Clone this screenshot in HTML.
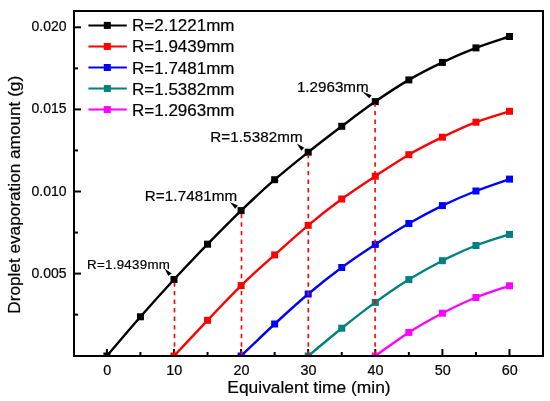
<!DOCTYPE html><html><head><meta charset="utf-8"><title>Droplet evaporation</title>
<style>html,body{margin:0;padding:0;background:#fff;}body{width:550px;height:401px;overflow:hidden;}svg{display:block;}text{font-family:"Liberation Sans",Arial,sans-serif;fill:#000;stroke:#000;stroke-width:0.2px;}</style></head><body>
<svg width="550" height="401" viewBox="0 0 550 401">
<rect x="0" y="0" width="550" height="401" fill="#fff"/>
<defs><clipPath id="pc"><rect x="75" y="12" width="467" height="343"/></clipPath></defs>
<rect x="74" y="11" width="469" height="345" fill="none" stroke="#000" stroke-width="2"/>
<g stroke="#000" stroke-width="2">
<line x1="106.90" y1="355" x2="106.90" y2="349.00"/>
<line x1="140.45" y1="355" x2="140.45" y2="352.00"/>
<line x1="174.00" y1="355" x2="174.00" y2="349.00"/>
<line x1="207.55" y1="355" x2="207.55" y2="352.00"/>
<line x1="241.10" y1="355" x2="241.10" y2="349.00"/>
<line x1="274.65" y1="355" x2="274.65" y2="352.00"/>
<line x1="308.20" y1="355" x2="308.20" y2="349.00"/>
<line x1="341.75" y1="355" x2="341.75" y2="352.00"/>
<line x1="375.30" y1="355" x2="375.30" y2="349.00"/>
<line x1="408.85" y1="355" x2="408.85" y2="352.00"/>
<line x1="442.40" y1="355" x2="442.40" y2="349.00"/>
<line x1="475.95" y1="355" x2="475.95" y2="352.00"/>
<line x1="509.50" y1="355" x2="509.50" y2="349.00"/>
<line x1="75" y1="314.65" x2="78.00" y2="314.65"/>
<line x1="75" y1="273.60" x2="81.00" y2="273.60"/>
<line x1="75" y1="232.55" x2="78.00" y2="232.55"/>
<line x1="75" y1="191.50" x2="81.00" y2="191.50"/>
<line x1="75" y1="150.45" x2="78.00" y2="150.45"/>
<line x1="75" y1="109.40" x2="81.00" y2="109.40"/>
<line x1="75" y1="68.35" x2="78.00" y2="68.35"/>
<line x1="75" y1="27.30" x2="81.00" y2="27.30"/>
</g>
<g clip-path="url(#pc)">
<path d="M106.90,356.00 C112.49,349.47 129.27,329.55 140.45,316.80 C151.63,304.05 162.82,291.60 174.00,279.50 C185.18,267.40 196.37,255.68 207.55,244.20 C218.73,232.72 229.92,221.35 241.10,210.60 C252.28,199.85 263.47,189.43 274.65,179.70 C285.83,169.97 297.02,161.10 308.20,152.20 C319.38,143.30 330.57,134.73 341.75,126.30 C352.93,117.87 364.12,109.33 375.30,101.60 C386.48,93.87 397.67,86.43 408.85,79.90 C420.03,73.37 431.22,67.73 442.40,62.40 C453.58,57.07 464.77,52.22 475.95,47.90 C487.13,43.58 503.91,38.40 509.50,36.50" fill="none" stroke="#000000" stroke-width="2.4" stroke-linejoin="round"/>
<rect x="103.40" y="352.50" width="7" height="7" fill="#000000"/>
<rect x="136.95" y="313.30" width="7" height="7" fill="#000000"/>
<rect x="170.50" y="276.00" width="7" height="7" fill="#000000"/>
<rect x="204.05" y="240.70" width="7" height="7" fill="#000000"/>
<rect x="237.60" y="207.10" width="7" height="7" fill="#000000"/>
<rect x="271.15" y="176.20" width="7" height="7" fill="#000000"/>
<rect x="304.70" y="148.70" width="7" height="7" fill="#000000"/>
<rect x="338.25" y="122.80" width="7" height="7" fill="#000000"/>
<rect x="371.80" y="98.10" width="7" height="7" fill="#000000"/>
<rect x="405.35" y="76.40" width="7" height="7" fill="#000000"/>
<rect x="438.90" y="58.90" width="7" height="7" fill="#000000"/>
<rect x="472.45" y="44.40" width="7" height="7" fill="#000000"/>
<rect x="506.00" y="33.00" width="7" height="7" fill="#000000"/>
<path d="M174.00,356.00 C179.59,350.05 196.37,332.03 207.55,320.30 C218.73,308.57 229.92,296.50 241.10,285.60 C252.28,274.70 263.47,264.95 274.65,254.90 C285.83,244.85 297.02,234.62 308.20,225.30 C319.38,215.98 330.57,207.18 341.75,199.00 C352.93,190.82 364.12,183.58 375.30,176.20 C386.48,168.82 397.67,161.20 408.85,154.70 C420.03,148.20 431.22,142.62 442.40,137.20 C453.58,131.78 464.77,126.52 475.95,122.20 C487.13,117.88 503.91,113.12 509.50,111.30" fill="none" stroke="#ff0000" stroke-width="2.4" stroke-linejoin="round"/>
<rect x="170.50" y="352.50" width="7" height="7" fill="#ff0000"/>
<rect x="204.05" y="316.80" width="7" height="7" fill="#ff0000"/>
<rect x="237.60" y="282.10" width="7" height="7" fill="#ff0000"/>
<rect x="271.15" y="251.40" width="7" height="7" fill="#ff0000"/>
<rect x="304.70" y="221.80" width="7" height="7" fill="#ff0000"/>
<rect x="338.25" y="195.50" width="7" height="7" fill="#ff0000"/>
<rect x="371.80" y="172.70" width="7" height="7" fill="#ff0000"/>
<rect x="405.35" y="151.20" width="7" height="7" fill="#ff0000"/>
<rect x="438.90" y="133.70" width="7" height="7" fill="#ff0000"/>
<rect x="472.45" y="118.70" width="7" height="7" fill="#ff0000"/>
<rect x="506.00" y="107.80" width="7" height="7" fill="#ff0000"/>
<path d="M241.10,356.00 C246.69,350.67 263.47,334.33 274.65,324.00 C285.83,313.67 297.02,303.42 308.20,294.00 C319.38,284.58 330.57,275.77 341.75,267.50 C352.93,259.23 364.12,251.73 375.30,244.40 C386.48,237.07 397.67,229.97 408.85,223.50 C420.03,217.03 431.22,211.02 442.40,205.60 C453.58,200.18 464.77,195.42 475.95,191.00 C487.13,186.58 503.91,181.08 509.50,179.10" fill="none" stroke="#0000ff" stroke-width="2.4" stroke-linejoin="round"/>
<rect x="237.60" y="352.50" width="7" height="7" fill="#0000ff"/>
<rect x="271.15" y="320.50" width="7" height="7" fill="#0000ff"/>
<rect x="304.70" y="290.50" width="7" height="7" fill="#0000ff"/>
<rect x="338.25" y="264.00" width="7" height="7" fill="#0000ff"/>
<rect x="371.80" y="240.90" width="7" height="7" fill="#0000ff"/>
<rect x="405.35" y="220.00" width="7" height="7" fill="#0000ff"/>
<rect x="438.90" y="202.10" width="7" height="7" fill="#0000ff"/>
<rect x="472.45" y="187.50" width="7" height="7" fill="#0000ff"/>
<rect x="506.00" y="175.60" width="7" height="7" fill="#0000ff"/>
<path d="M308.20,356.00 C313.79,351.37 330.57,337.13 341.75,328.20 C352.93,319.27 364.12,310.50 375.30,302.40 C386.48,294.30 397.67,286.55 408.85,279.60 C420.03,272.65 431.22,266.38 442.40,260.70 C453.58,255.02 464.77,249.88 475.95,245.50 C487.13,241.12 503.91,236.25 509.50,234.40" fill="none" stroke="#008080" stroke-width="2.4" stroke-linejoin="round"/>
<rect x="304.70" y="352.50" width="7" height="7" fill="#008080"/>
<rect x="338.25" y="324.70" width="7" height="7" fill="#008080"/>
<rect x="371.80" y="298.90" width="7" height="7" fill="#008080"/>
<rect x="405.35" y="276.10" width="7" height="7" fill="#008080"/>
<rect x="438.90" y="257.20" width="7" height="7" fill="#008080"/>
<rect x="472.45" y="242.00" width="7" height="7" fill="#008080"/>
<rect x="506.00" y="230.90" width="7" height="7" fill="#008080"/>
<path d="M375.30,356.00 C380.89,352.07 397.67,339.53 408.85,332.40 C420.03,325.27 431.22,319.02 442.40,313.20 C453.58,307.38 464.77,302.07 475.95,297.50 C487.13,292.93 503.91,287.75 509.50,285.80" fill="none" stroke="#ff00ff" stroke-width="2.4" stroke-linejoin="round"/>
<rect x="371.80" y="352.50" width="7" height="7" fill="#ff00ff"/>
<rect x="405.35" y="328.90" width="7" height="7" fill="#ff00ff"/>
<rect x="438.90" y="309.70" width="7" height="7" fill="#ff00ff"/>
<rect x="472.45" y="294.00" width="7" height="7" fill="#ff00ff"/>
<rect x="506.00" y="282.30" width="7" height="7" fill="#ff00ff"/>
</g>
<g clip-path="url(#pc)" stroke="#ff0000" stroke-width="1.6" stroke-dasharray="4.4,4.17" stroke-dashoffset="7.87" fill="none">
<line x1="174.50" y1="356" x2="174.50" y2="282.00"/>
<line x1="241.50" y1="356" x2="241.50" y2="213.10"/>
<line x1="308.30" y1="356" x2="308.30" y2="154.70"/>
<line x1="375.10" y1="356" x2="375.10" y2="104.10"/>
</g>
<g font-size="14.4" text-anchor="middle">
<text x="107.20" y="374.6">0</text>
<text x="174.30" y="374.6">10</text>
<text x="241.40" y="374.6">20</text>
<text x="308.50" y="374.6">30</text>
<text x="375.60" y="374.6">40</text>
<text x="442.70" y="374.6">50</text>
<text x="509.80" y="374.6">60</text>
</g>
<g font-size="14" text-anchor="end">
<text x="66.5" y="277.60">0.005</text>
<text x="66.5" y="195.50">0.010</text>
<text x="66.5" y="113.40">0.015</text>
<text x="66.5" y="31.30">0.020</text>
</g>
<text x="309" y="393" font-size="17.4" text-anchor="middle">Equivalent time (min)</text>
<text transform="translate(19.75,194.8) rotate(-90)" font-size="17.2" text-anchor="middle">Droplet evaporation amount (g)</text>
<line x1="88.4" y1="25.40" x2="126.8" y2="25.40" stroke="#000000" stroke-width="2"/>
<rect x="103.8" y="21.90" width="7" height="7" fill="#000000"/>
<text x="132" y="31.40" font-size="17">R=2.1221mm</text>
<line x1="88.4" y1="46.45" x2="126.8" y2="46.45" stroke="#ff0000" stroke-width="2"/>
<rect x="103.8" y="42.95" width="7" height="7" fill="#ff0000"/>
<text x="132" y="52.45" font-size="17">R=1.9439mm</text>
<line x1="88.4" y1="67.50" x2="126.8" y2="67.50" stroke="#0000ff" stroke-width="2"/>
<rect x="103.8" y="64.00" width="7" height="7" fill="#0000ff"/>
<text x="132" y="73.50" font-size="17">R=1.7481mm</text>
<line x1="88.4" y1="88.55" x2="126.8" y2="88.55" stroke="#008080" stroke-width="2"/>
<rect x="103.8" y="85.05" width="7" height="7" fill="#008080"/>
<text x="132" y="94.55" font-size="17">R=1.5382mm</text>
<line x1="88.4" y1="109.60" x2="126.8" y2="109.60" stroke="#ff00ff" stroke-width="2"/>
<rect x="103.8" y="106.10" width="7" height="7" fill="#ff00ff"/>
<text x="132" y="115.60" font-size="17">R=1.2963mm</text>
<text x="87.00" y="268.60" font-size="13.3" letter-spacing="0.30">R=1.9439mm</text>
<polygon points="164.50,268.50 168.20,275.80 171.80,273.50" fill="#000"/>
<text x="144.75" y="200.50" font-size="15.2" letter-spacing="0.10">R=1.7481mm</text>
<polygon points="230.00,202.20 235.20,208.70 238.00,205.50" fill="#000"/>
<text x="210.20" y="141.70" font-size="15.2" letter-spacing="0.10">R=1.5382mm</text>
<polygon points="296.75,143.40 301.25,150.75 304.25,147.75" fill="#000"/>
<text x="296.90" y="91.90" font-size="15.2" letter-spacing="0.00">1.2963mm</text>
<polygon points="362.50,91.75 369.25,98.25 371.75,95.25" fill="#000"/>
</svg></body></html>
